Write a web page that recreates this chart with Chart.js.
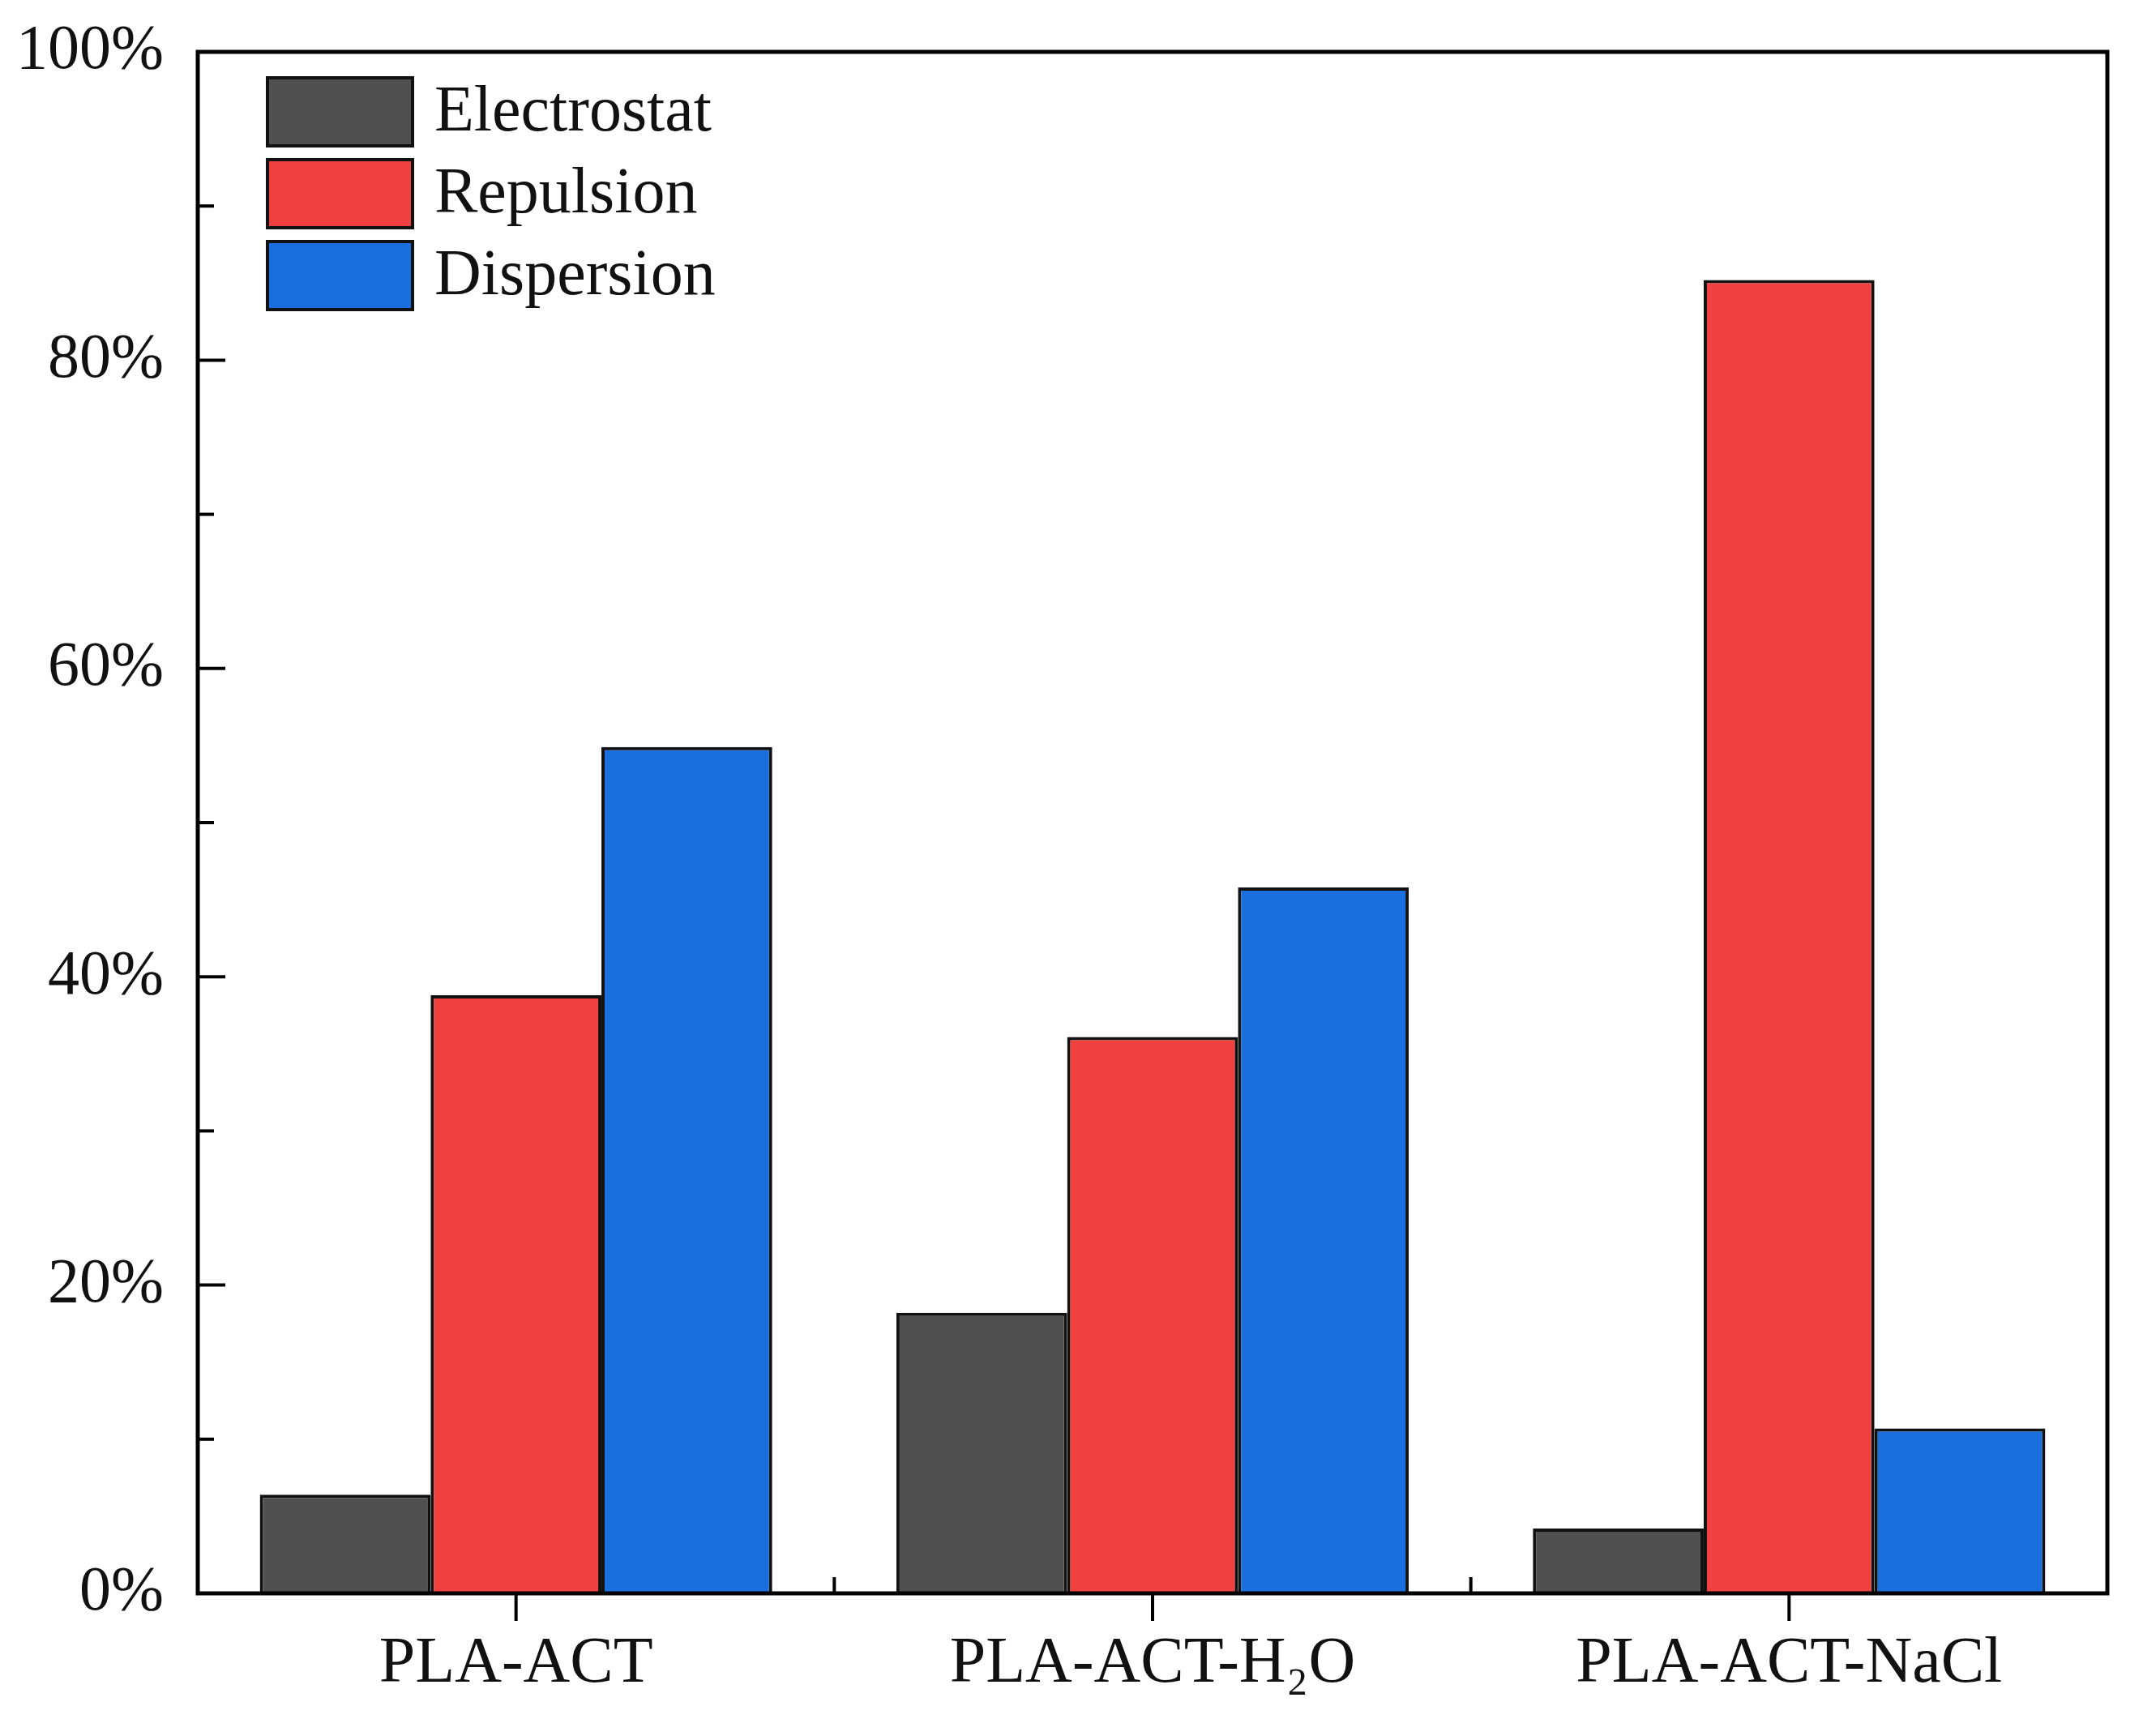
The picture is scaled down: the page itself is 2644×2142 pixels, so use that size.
<!DOCTYPE html>
<html>
<head>
<meta charset="utf-8">
<script src="https://cdn.jsdelivr.net/npm/chart.js@4.4.1/dist/chart.umd.min.js"></script>
<style>
  html, body { margin: 0; padding: 0; background: #fff; }
</style>
</head>
<body>
<canvas id="chart" width="2644" height="2142"></canvas>
<script>
// data (percent)
const categories = ['PLA-ACT', 'PLA-ACT-H\u2082O', 'PLA-ACT-NaCl'];
const seriesNames = ['Electrostat', 'Repulsion', 'Dispersion'];
const electrostat = [6.4, 18.2, 4.2];
const repulsion = [38.8, 36.1, 85.2];
const dispersion = [54.9, 45.8, 10.7];
const yTicks = [0, 20, 40, 60, 80, 100];
const yMinorTicks = [10, 30, 50, 70, 90];

const colors = ['#505050', '#f04040', '#1a6fdf'];
const FONT = 'Liberation Serif';

// frame, ticks and legend drawn on top of the bars
const framePlugin = {
  id: 'framePlugin',
  afterDatasetsDraw(chart) {
    const { ctx, chartArea: a, scales: { x, y } } = chart;
    const line = (x1, y1, x2, y2) => {
      ctx.beginPath(); ctx.moveTo(x1, y1); ctx.lineTo(x2, y2); ctx.stroke();
    };
    ctx.save();
    ctx.strokeStyle = '#000';

    // y ticks, inward
    ctx.lineWidth = 4;
    yTicks.forEach(v => { const py = y.getPixelForValue(v); line(a.left, py, a.left + 34, py); });
    yMinorTicks.forEach(v => { const py = y.getPixelForValue(v); line(a.left, py, a.left + 20, py); });

    // x ticks: major outward at centres, minor inward between groups
    categories.forEach((c, i) => {
      const px = x.getPixelForValue(i);
      line(px, a.bottom, px, a.bottom + 34);
      if (i > 0) {
        const mid = (x.getPixelForValue(i - 1) + px) / 2;
        line(mid, a.bottom, mid, a.bottom - 20);
      }
    });

    // frame
    ctx.lineWidth = 5;
    ctx.strokeRect(a.left, a.top, a.right - a.left, a.bottom - a.top);

    // legend inside the plot
    ctx.font = '80px "' + FONT + '"';
    ctx.textAlign = 'left';
    ctx.textBaseline = 'middle';
    chart.data.datasets.forEach((ds, i) => {
      const bx = a.left + 86, by = a.top + 32 + i * 101;
      ctx.fillStyle = ds.backgroundColor;
      ctx.fillRect(bx, by, 179, 84);
      ctx.lineWidth = 4;
      ctx.strokeStyle = '#111';
      ctx.strokeRect(bx, by, 179, 84);
      ctx.fillStyle = '#111';
      ctx.fillText(ds.label, bx + 206, by + 44);
    });
    ctx.restore();
  }
};

new Chart(document.getElementById('chart'), {
  type: 'bar',
  data: {
    labels: categories,
    datasets: [electrostat, repulsion, dispersion].map((d, i) => ({
      label: seriesNames[i],
      data: d,
      backgroundColor: colors[i],
      borderColor: '#111',
      borderWidth: 4,
      categoryPercentage: 0.805,
      barPercentage: 1.0
    }))
  },
  options: {
    responsive: false,
    animation: false,
    devicePixelRatio: 1,
    layout: { padding: { left: 0, top: 64, right: 44, bottom: 0 } },
    plugins: { legend: { display: false }, tooltip: { enabled: false } },
    scales: {
      x: {
        grid: { display: false, drawTicks: false },
        border: { display: false },
        ticks: { color: '#111', font: { family: FONT, size: 80 }, padding: 40 },
        afterFit(scale) {
          scale.height = 176;
          scale.paddingLeft = 0; scale.paddingRight = 0;
        }
      },
      y: {
        min: 0, max: 100,
        grid: { display: false, drawTicks: false },
        border: { display: false },
        ticks: {
          stepSize: 20,
          color: '#111',
          padding: 42,
          font: { family: FONT, size: 78 },
          callback: v => v + '%'
        },
        afterFit(scale) {
          scale.width = 244;
          scale.paddingTop = 0; scale.paddingBottom = 0;
        }
      }
    }
  },
  plugins: [framePlugin]
});
</script>
</body>
</html>
